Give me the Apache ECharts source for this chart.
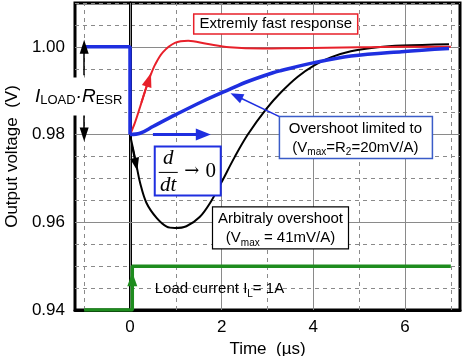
<!DOCTYPE html>
<html>
<head>
<meta charset="utf-8">
<script src="https://cdn.jsdelivr.net/npm/echarts@6/dist/echarts.min.js"></script>
<style>
  html, body { margin: 0; background: #fff; }
  #main { width: 474px; height: 356px; }
</style>
</head>
<body>
<div id="main"></div>
<script>
// 时间 (µs) / 输出电压 (V)
const xLabels = [0, 2, 4, 6];
const xMinorLines = [-1, 1, 3, 5, 7];
const yLabels = [0.94, 0.96, 0.98, 1.00];

// 极快响应 (红)
const redT = [0, 0.1, 0.22, 0.33, 0.43, 0.55, 0.72, 0.98, 1.27, 1.67, 2.17, 2.9, 3.6, 5.0, 6.0, 7.0];
const redV = [0.98, 0.9825, 0.9863, 0.990, 0.993, 0.996, 0.9988, 1.0009, 1.0014, 1.0007, 0.9999, 0.9996, 0.9997, 0.9999, 1.0, 1.0];

// 负载阶跃前的输出 (蓝色阶梯)
const stepT = [-1, 0, 0];
const stepV = [1.0, 1.0, 0.98];

// 过冲受限 (蓝)
const blueT = [0, 0.22, 0.51, 1.01, 1.59, 2.17, 2.57, 3.12, 3.30, 4.02, 4.82, 5.93, 6.96];
const blueV = [0.98, 0.9803, 0.9819, 0.9846, 0.9876, 0.9903, 0.9921, 0.9941, 0.9946, 0.9964, 0.9979, 0.9989, 0.9996];

// 任意过冲 (黑)
const blackT = [0, 0.07, 0.145, 0.22, 0.36, 0.58, 0.80, 0.98, 1.23, 1.52, 1.77, 1.99, 2.28, 2.57, 2.97, 3.30, 3.66, 4.02, 4.38, 4.82, 5.40, 5.94, 6.96];
const blackV = [0.98, 0.9766, 0.9728, 0.969, 0.9644, 0.961, 0.959, 0.9587, 0.9591, 0.9612, 0.9648, 0.969, 0.9748, 0.980, 0.9858, 0.9897, 0.9932, 0.9958, 0.9976, 0.999, 0.9999, 1.0003, 1.0006];

// 负载电流 (绿)
const greenT = [-1, 0.05, 0.05, 7.0];
const greenV = [0.94, 0.94, 0.95, 0.95];

const zip = (a, b) => a.map((v, i) => [v, b[i]]);

const RED = '#e8202a', BLUE = '#1f2fe0', GREEN = '#1e8c1e', GRID = '#8a8a8a';
const FONT = 'Liberation Sans, Arial, sans-serif';

const chart = echarts.init(document.getElementById('main'));

const arrow = (x1, y1, x2, y2, color, width, size) => [
  { coord: [x1, y1], symbol: 'none', lineStyle: { color: color, width: width, type: 'solid' } },
  { coord: [x2, y2], symbol: 'triangle', symbolSize: size }
];

const option = {
  animation: false,
  grid: {
    left: 75, top: 3, right: 14, bottom: 46,
    outerBoundsMode: 'none', containLabel: false,
    show: true, borderColor: '#000', borderWidth: 3
  },
  xAxis: {
    type: 'value', min: -1.2, max: 7.2,
    name: 'Time  (µs)', nameLocation: 'middle', nameGap: 26,
    nameTextStyle: { fontSize: 17, fontFamily: FONT, color: '#000' },
    axisLine: { show: true, lineStyle: { color: '#000', width: 3 } },
    axisTick: { show: false },
    splitLine: { show: false },
    axisLabel: { customValues: xLabels, fontSize: 17, fontFamily: FONT, color: '#000', margin: 9 }
  },
  yAxis: {
    type: 'value', min: 0.94, max: 1.01, interval: 0.005,
    name: 'Output voltage  (V)', nameLocation: 'middle', nameGap: 52,
    nameTextStyle: { fontSize: 17, fontFamily: FONT, color: '#000' },
    axisLine: { show: true, lineStyle: { color: '#000', width: 3 } },
    axisTick: { show: false },
    splitLine: { show: true, lineStyle: { color: GRID, type: [4, 4], width: 1 } },
    axisLabel: {
      customValues: yLabels, fontSize: 17, fontFamily: FONT, color: '#000', margin: 10,
      formatter: v => v.toFixed(2)
    }
  },
  series: [
    {
      // 网格线
      type: 'line', data: [], silent: true, z: 1,
      markLine: {
        silent: true, symbol: 'none', label: { show: false }, z: 1,
        data: [
          ...xLabels.map(v => ({ xAxis: v, lineStyle: { color: GRID, type: 'solid', width: 1 } })),
          ...xMinorLines.map(v => ({ xAxis: v, lineStyle: { color: GRID, type: [4, 4], width: 1 } })),
          ...yLabels.slice(1).map(v => ({ yAxis: v, lineStyle: { color: GRID, type: 'solid', width: 1 } }))
        ]
      }
    },
    { type: 'line', data: zip(greenT, greenV), symbol: 'none', z: 3,
      lineStyle: { color: GREEN, width: 3.5 } },
    { type: 'line', data: zip(blackT, blackV), symbol: 'none', smooth: 0.35, z: 3,
      lineStyle: { color: '#000', width: 2 } },
    { type: 'line', data: zip(redT, redV), symbol: 'none', smooth: 0.35, z: 3,
      lineStyle: { color: RED, width: 2 } },
    { type: 'line', data: zip(blueT, blueV), symbol: 'none', smooth: 0.35, z: 3,
      lineStyle: { color: BLUE, width: 3.5 } },
    { type: 'line', data: zip(stepT, stepV), symbol: 'none', z: 3,
      lineStyle: { color: BLUE, width: 3.5 } },
    {
      // 箭头
      type: 'line', data: [], silent: true, z: 6,
      markLine: {
        silent: true, label: { show: false }, z: 6,
        data: [
          arrow(0.25, 0.9873, 0.41, 0.9925, RED, 2, [10, 14]),
          arrow(0.05, 0.9772, 0.13, 0.9732, '#000', 2, [9, 13]),
          arrow(0.5, 0.98, 1.6, 0.98, BLUE, 3, [12, 15]),
          arrow(3.26, 0.9841, 2.32, 0.9888, BLUE, 1.5, [10, 13]),
          arrow(0.05, 0.9420, 0.05, 0.9470, GREEN, 3, [10, 14]),
          arrow(-1, 0.9935, -1, 1.0, '#000', 1.5, [9, 14]),
          arrow(-1, 0.9855, -1, 0.98, '#000', 1.5, [9, 14])
        ]
      }
    }
  ]
};

chart.setOption(option);

// 注释文字
const px = (x, y) => chart.convertToPixel({ gridIndex: 0 }, [x, y]);
const txt = (x, y, text, extra) => Object.assign({
  type: 'text', x: x, y: y, z: 20,
  style: Object.assign({ text: text, fontSize: 15, fontFamily: FONT, fill: '#000',
    align: 'center', verticalAlign: 'middle' }, extra || {})
});
const box = (x, y, w, h, stroke, lw) => ({
  type: 'rect', z: 15, shape: { x: x, y: y, width: w, height: h },
  style: { fill: '#fff', stroke: stroke, lineWidth: lw }
});
const subRich = {
  n: { fontSize: 15, fontFamily: FONT, lineHeight: 20, verticalAlign: 'middle' },
  s: { fontSize: 10, fontFamily: FONT, lineHeight: 14, verticalAlign: 'bottom' }
};

const pFast = px(1.39, 1.0075);
const pOver = px(3.26, 0.9841);
const pD = px(0.54, 0.9773);
const pArb = px(1.80, 0.9635);
const pLoad = px(0.54, 0.9448);
const pI = px(-1.12, 0.9887);

const graphic = [
  box(pFast[0], pFast[1], 164, 20, RED, 1.5),
  txt(pFast[0] + 82, pFast[1] + 10, 'Extremly fast response'),

  box(pOver[0], pOver[1], 153, 42, '#3a5cc8', 1.5),
  txt(pOver[0] + 76, pOver[1] + 12, 'Overshoot limited to'),
  txt(pOver[0] + 76, pOver[1] + 31, '{n|(V}{s|max}{n|=R}{s|2}{n|=20mV/A)}', { rich: subRich }),

  box(pArb[0], pArb[1], 136, 42, '#000', 1.2),
  txt(pArb[0] + 68, pArb[1] + 12, 'Arbitraly overshoot'),
  txt(pArb[0] + 68, pArb[1] + 31, '{n|(V}{s|max}{n| = 41mV/A)}', { rich: subRich }),

  txt(pLoad[0], pLoad[1], '{n|Load current I}{s|L}{n|= 1A}', { rich: subRich, align: 'left' }),

  box(pD[0], pD[1], 66, 49, BLUE, 2),
  txt(pD[0] + 13.5, pD[1] + 12, 'd', { fontFamily: 'Liberation Serif, serif', fontStyle: 'italic', fontSize: 21 }),
  { type: 'line', z: 20, shape: { x1: pD[0] + 4, y1: pD[1] + 26, x2: pD[0] + 23, y2: pD[1] + 26 },
    style: { stroke: '#000', lineWidth: 1 } },
  txt(pD[0] + 13.5, pD[1] + 39, 'dt', { fontFamily: 'Liberation Serif, serif', fontStyle: 'italic', fontSize: 21 }),
  txt(pD[0] + 37, pD[1] + 25, '→', { fontFamily: 'DejaVu Serif, serif', fontSize: 18 }),
  txt(pD[0] + 56, pD[1] + 25, '0', { fontFamily: 'Liberation Serif, serif', fontSize: 21 }),

  txt(pI[0], pI[1], '{I|I}{s|LOAD}{I|·R}{s|ESR}', {
    backgroundColor: '#fff', padding: [8, 2, 8, 2],
    rich: {
      I: { fontSize: 19, fontFamily: FONT, fontStyle: 'italic', lineHeight: 22, verticalAlign: 'middle' },
      s: { fontSize: 13, fontFamily: FONT, lineHeight: 16, verticalAlign: 'bottom' }
    }
  })
];

chart.setOption({ graphic: graphic });
</script>
</body>
</html>
